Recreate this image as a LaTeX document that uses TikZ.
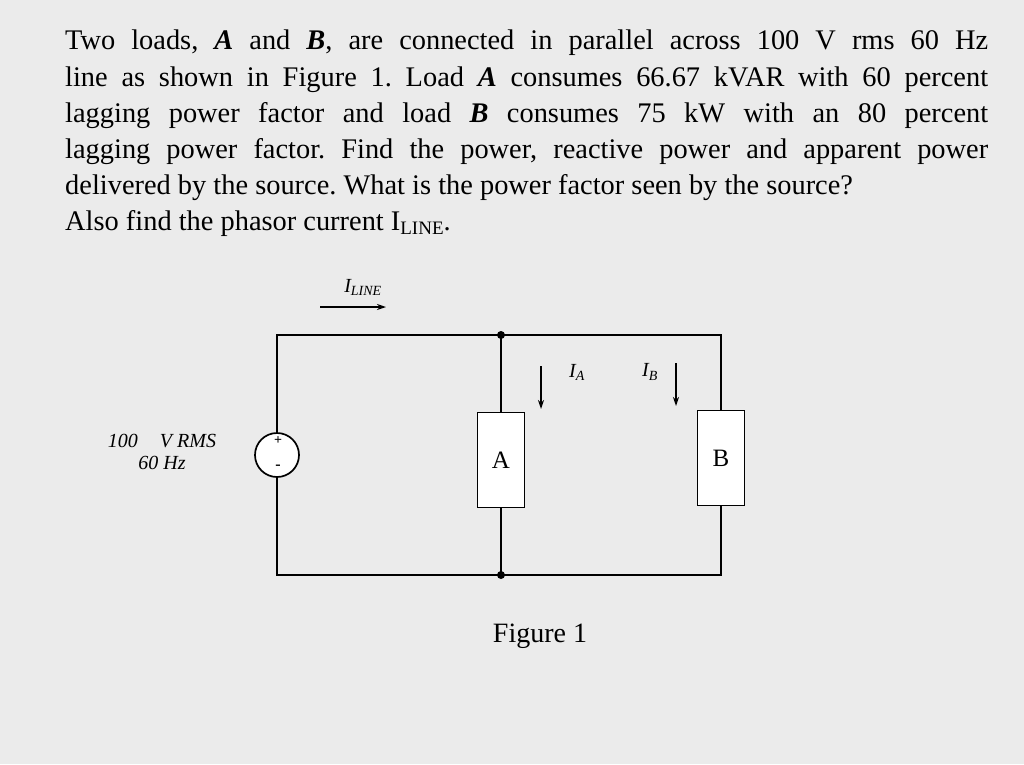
\documentclass[tikz,border=0pt]{standalone}
\usepackage{fontspec}
\setmainfont{Liberation Serif}
\usetikzlibrary{arrows.meta}
\begin{document}
\begin{tikzpicture}[x=1pt,y=-1pt,
  wire/.style={line width=1.7pt},
  load/.style={draw,line width=1.7pt,fill=white,minimum width=47pt,minimum height=95pt,font=\fontsize{25}{27}\selectfont},
  cur/.style={line width=1.4pt,-{Stealth[length=9pt,width=6pt]}},
  lab/.style={font=\itshape\fontsize{20}{22}\selectfont},
  dot/.style={circle,fill=black,inner sep=0pt,minimum size=8pt}]
\useasboundingbox (0,0) rectangle (1024,764);
\fill[white!92!black] (0,0) rectangle (1024,764);
\node[anchor=north west,inner sep=0pt] (txt) at (65,30) {\parbox{923pt}{\frenchspacing\fontsize{28.4}{36.2}\selectfont
Two loads, \textbf{\textit{A}} and \textbf{\textit{B}}, are connected in parallel across 100 V rms 60 Hz\linebreak
line as shown in Figure 1. Load \textbf{\textit{A}} consumes 66.67 kVAR with 60 percent\linebreak
lagging power factor and load \textbf{\textit{B}} consumes 75 kW with an 80 percent\linebreak
lagging power factor. Find the power, reactive power and apparent power\linebreak
delivered by the source. What is the power factor seen by the source?\\
Also find the phasor current I\raisebox{-0.3ex}{\fontsize{19}{19}\selectfont LINE}.}};
% nodes
\node[circle,draw,line width=1.7pt,fill=white,minimum size=44pt,inner sep=0pt] (src) at (277,455) {};
\node[font=\bfseries\fontsize{14}{14}\selectfont] at (278,441) {+};
\node[font=\bfseries\fontsize{16}{16}\selectfont] at (278,467) {-};
\coordinate (tl) at (277,335);
\coordinate (bl) at (277,575);
\node[dot] (jt) at (501,335) {};
\node[dot] (jb) at (501,575) {};
\coordinate (tr) at (721,335);
\coordinate (br) at (721,575);
\node[load] (A) at (501,460) {A};
\node[load] (B) at (721,458) {B};
\draw[wire] (src.north) -- (tl) -- (jt.center) -- (tr) -- (B.north);
\draw[wire] (src.south) -- (bl) -- (jb.center) -- (br) -- (B.south);
\draw[wire] (jt.center) -- (A.north);
\draw[wire] (A.south) -- (jb.center);
% currents
\coordinate (ia1) at (541,366); \coordinate (ia2) at (541,409);
\coordinate (ib1) at (676,363); \coordinate (ib2) at (676,406);
\coordinate (il1) at (320,307); \coordinate (il2) at (386,307);
\draw[cur] (ia1) -- (ia2);
\draw[cur] (ib1) -- (ib2);
\draw[cur] (il1) -- (il2);
\node[lab] (la) at (577,372) {I\textsubscript{A}};
\node[lab] (lb) at (650,372) {I\textsubscript{B}};
\node[lab] (ll) at (363,287) {I\textsubscript{LINE}};
\node[lab,align=center] (sl) at (162,452) {100\hspace{1.1em}V RMS\\60 Hz};
\node[font=\fontsize{28}{30}\selectfont] (fig) at (540,636) {Figure 1};
\end{tikzpicture}
\end{document}
